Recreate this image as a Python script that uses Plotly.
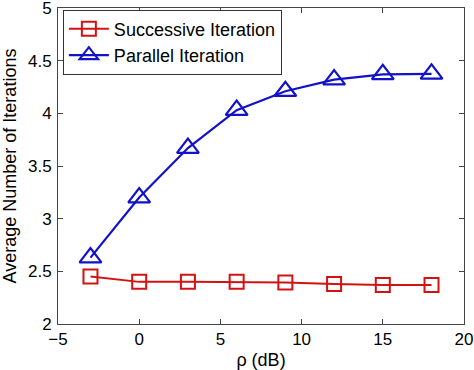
import plotly.graph_objects as go

rho_db = [-3, 0, 3, 6, 9, 12, 15, 18]
successive = [2.45, 2.40, 2.40, 2.40, 2.395, 2.38, 2.37, 2.37]
parallel = [2.63, 3.20, 3.67, 4.03, 4.21, 4.32, 4.37, 4.375]

x_ticks = [-5, 0, 5, 10, 15, 20]
y_ticks = [2, 2.5, 3, 3.5, 4, 4.5, 5]
y_tick_text = ["2", "2.5", "3", "3.5", "4", "4.5", "5"]

RED = "#d41212"
BLUE = "#1212c8"
FONT = "Liberation Sans, Arial"

fig = go.Figure()
fig.add_trace(go.Scatter(
    x=rho_db, y=successive, name="Successive Iteration", mode="lines+markers",
    line=dict(color=RED, width=2),
    marker=dict(symbol="square-open", size=14, color=RED, line=dict(width=2, color=RED)),
))
fig.add_trace(go.Scatter(
    x=rho_db, y=parallel, name="Parallel Iteration", mode="lines+markers",
    line=dict(color=BLUE, width=2.2),
    marker=dict(symbol="triangle-up-open", size=19, color=BLUE, line=dict(width=2.2, color=BLUE)),
))

axis_common = dict(
    showgrid=False, zeroline=False, showline=True, linecolor="#444", linewidth=1,
    mirror="ticks", ticks="inside", ticklen=5, tickcolor="#444",
    tickfont=dict(family=FONT, size=17, color="black"),
    ticklabeloverflow="allow", automargin=False,
)
fig.update_xaxes(range=[-5, 20], tickvals=x_ticks, ticklabelstandoff=0,
                 title=dict(text="ρ (dB)", font=dict(family=FONT, size=18, color="black")),
                 **axis_common)
fig.update_yaxes(range=[2, 5], tickvals=y_ticks, ticktext=y_tick_text, ticklabelstandoff=2,
                 title=dict(text="Average Number of Iterations", font=dict(family=FONT, size=18, color="black")),
                 **axis_common)

fig.update_layout(
    width=474, height=370,
    margin=dict(l=58, r=10, t=8, b=46),
    paper_bgcolor="white", plot_bgcolor="white",
    showlegend=True,
    legend=dict(x=0.012, y=0.995, xanchor="left", yanchor="top",
                bgcolor="white", bordercolor="#333", borderwidth=1,
                font=dict(family=FONT, size=18, color="black"),
                tracegroupgap=0, itemwidth=40),
)

fig.write_html("out.html", config={"displayModeBar": False},
               post_script="document.body.style.margin='0px';")
